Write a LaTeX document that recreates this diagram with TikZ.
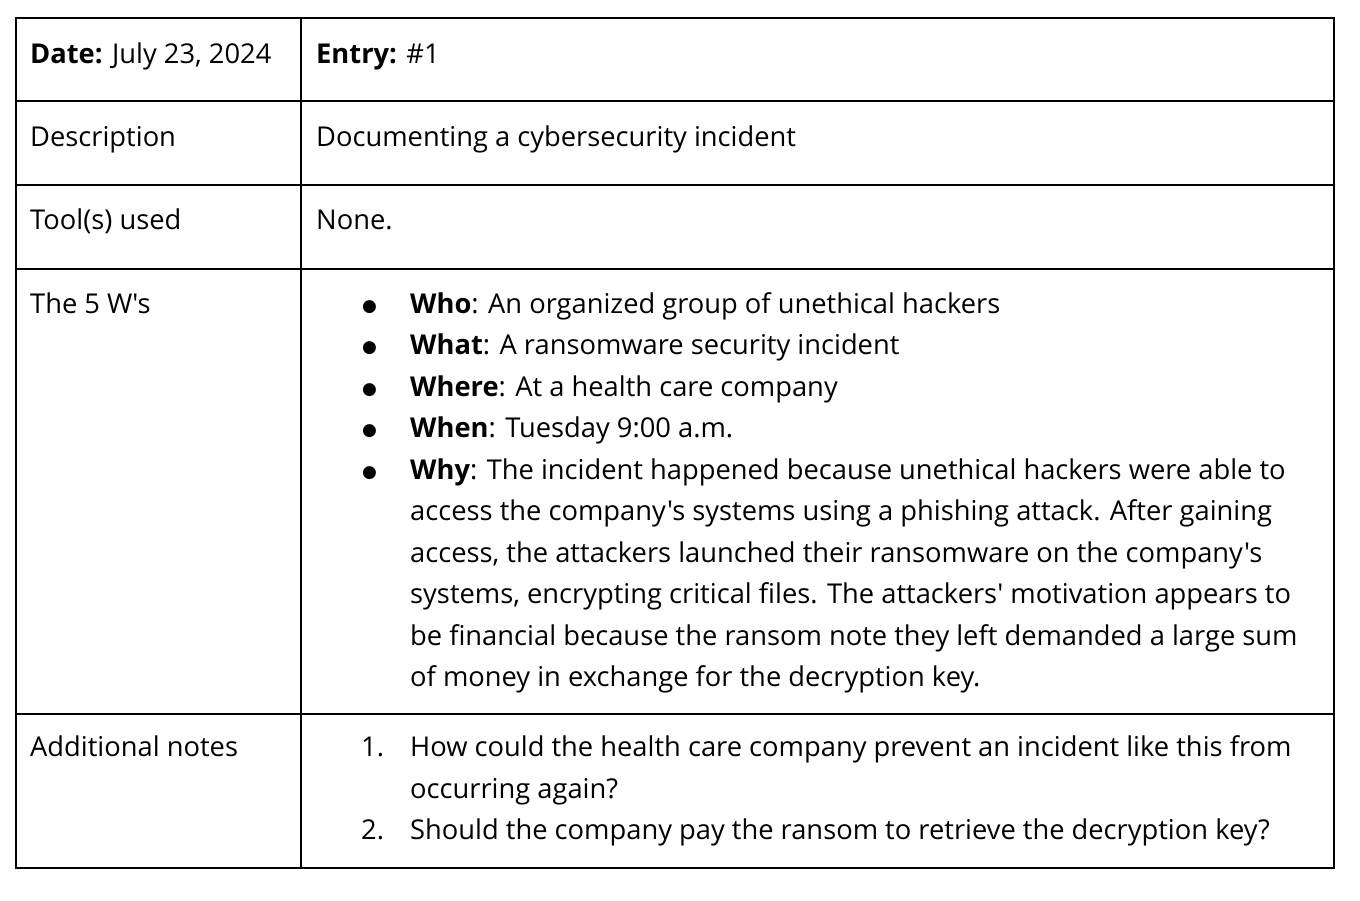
\documentclass[tikz,border=0pt]{standalone}
\usepackage{fontspec}
\setmainfont{Open Sans}[Ligatures=TeXOff]
\newfontfamily\dvs{DejaVu Sans}
\begin{document}
\begin{tikzpicture}[x=1pt,y=-1pt,
  tx/.style={anchor=base west,inner sep=0pt,font=\fontsize{27.3}{32}\selectfont},
  ln/.style={line width=1.6pt,black}]
\useasboundingbox (0,0) rectangle (1360,900);
\draw[ln] (16,18) rectangle (1334,868);
\draw[ln] (301,18) -- (301,868);
\foreach \y in {101,185,269,714} \draw[ln] (16,\y) -- (1334,\y);
\node[tx] (d) at (30,63) {\textbf{Date:} July 23, 2024};
\node[tx] (e) at (316,63) {\textbf{Entry:} \#1};
\node[tx] (r2a) at (30,146) {Description};
\node[tx] (r2b) at (316,146) {Documenting a cybersecurity incident};
\node[tx] (r3a) at (30,229) {Tool(s) used};
\node[tx] (r3b) at (316,229) {None.};
\node[tx] (r4a) at (30,313) {The 5 W's};
\foreach \y/\t [count=\i] in {313/{\textbf{Who}: An organized group of unethical hackers},
  354/{\textbf{What}: A ransomware security incident},
  396/{\textbf{Where}: At a health care company},
  437/{\textbf{When}: Tuesday 9:00 a.m.},
  479/{\textbf{Why}: The incident happened because unethical hackers were able to}}
  {\node[tx,font=\dvs\fontsize{17}{20}\selectfont] (b\i) at (362,\y-2) {●}; \node[tx] (w\i) at (410,\y) {\t};}
\foreach \y/\t [count=\i] in {520/{access the company's systems using a phishing attack. After gaining},
  562/{access, the attackers launched their ransomware on the company's},
  603/{systems, encrypting critical files. The attackers' motivation appears to},
  645/{be financial because the ransom note they left demanded a large sum},
  686/{of money in exchange for the decryption key.}}
  {\node[tx] (y\i) at (410,\y) {\t};}
\node[tx] (r5a) at (30,756) {Additional notes};
\node[tx] (n1) at (361,756) {1.};
\node[tx] (q1) at (410,756) {How could the health care company prevent an incident like this from};
\node[tx] (q1b) at (410,798) {occurring again?};
\node[tx] (n2) at (361,839) {2.};
\node[tx] (q2) at (410,839) {Should the company pay the ransom to retrieve the decryption key?};
\end{tikzpicture}
\end{document}
